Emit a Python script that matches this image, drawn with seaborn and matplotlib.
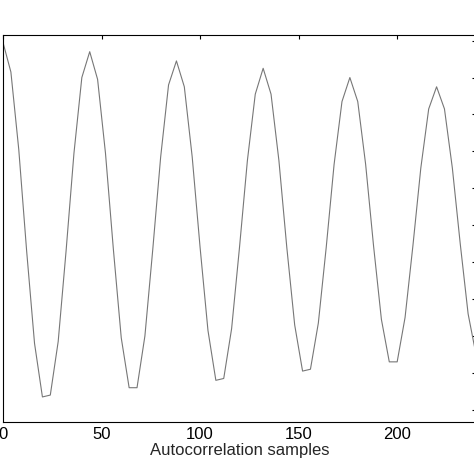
import numpy as np
import seaborn as sns
import matplotlib.pyplot as plt

# autocorrelation values, every 4 samples
lags = list(range(0, 241, 4))
acf = [0.99, 0.83, 0.41, -0.14, -0.64, -0.93, -0.92, -0.63, -0.14, 0.39, 0.80,
       0.94, 0.79, 0.39, -0.13, -0.61, -0.88, -0.88, -0.60, -0.13, 0.37, 0.76,
       0.89, 0.75, 0.37, -0.12, -0.57, -0.84, -0.83, -0.56, -0.12, 0.35, 0.71,
       0.85, 0.71, 0.35, -0.12, -0.54, -0.79, -0.78, -0.53, -0.12, 0.33, 0.67,
       0.80, 0.67, 0.33, -0.11, -0.51, -0.74, -0.74, -0.50, -0.11, 0.31, 0.63,
       0.75, 0.63, 0.31, -0.10, -0.48, -0.70]

sns.set_style("white")
plt.rcParams['font.family'] = ['Liberation Sans', 'DejaVu Sans']

fig = plt.figure(figsize=(4.74, 4.74), dpi=100)
ax = fig.add_axes([3 / 474, 0.11, 473 / 474, 0.816])
sns.lineplot(x=lags, y=acf, ax=ax, color='#777777', linewidth=0.8)
ax.set_xlim(0, 240)
ax.set_ylim(-1.065, 1.03)
ax.set_xticks([0, 50, 100, 150, 200])
ax.set_yticks(np.arange(-1.0, 1.01, 0.2))
ax.tick_params(direction='in', length=3, top=True, right=True, labelsize=12,
               colors='black')
for s in ax.spines.values():
    s.set_color('black')
    s.set_linewidth(0.8)
ax.set_xlabel('Autocorrelation samples', fontsize=12, labelpad=1)
ax.set_ylabel('')
fig.savefig('out.png', dpi=100)
